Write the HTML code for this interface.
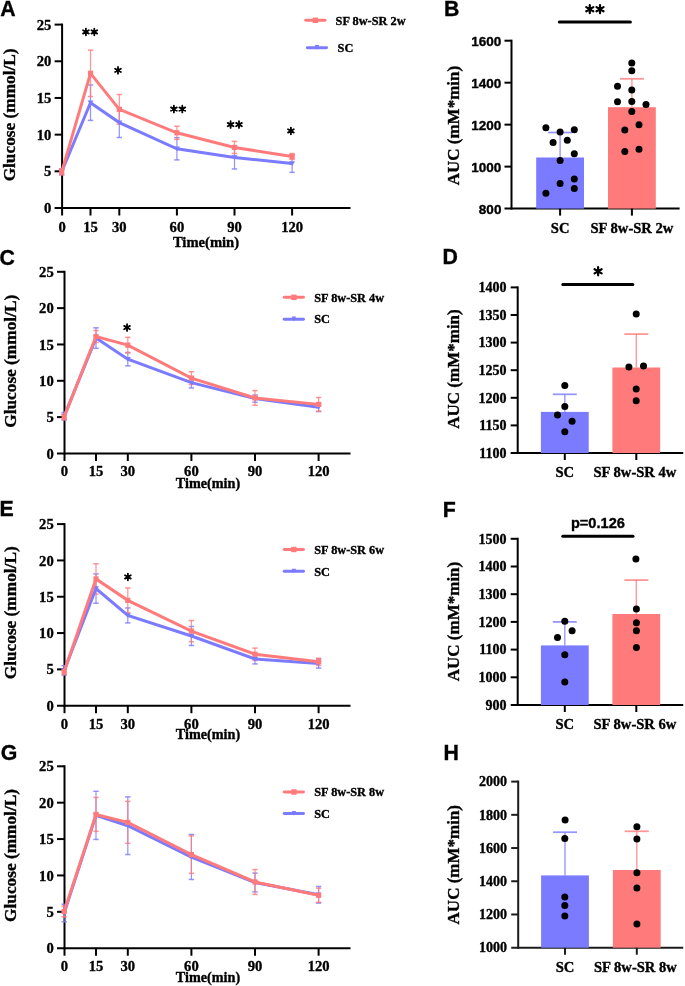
<!DOCTYPE html>
<html><head><meta charset="utf-8"><style>
html,body{margin:0;padding:0;background:#fff;width:685px;height:986px;overflow:hidden}
svg{display:block;filter:blur(0.45px)}
</style></head><body>
<svg width="685" height="986" viewBox="0 0 685 986">
<rect width="685" height="986" fill="#fff"/>
<line x1="62.10" y1="23.60" x2="62.10" y2="209.00" stroke="#000" stroke-width="2" stroke-linecap="butt" />
<line x1="54.60" y1="208.00" x2="350.50" y2="208.00" stroke="#000" stroke-width="2" stroke-linecap="butt" />
<text x="51.30" y="213.10" font-family='"Liberation Serif", serif' font-size="14.6" font-weight="bold" text-anchor="end" stroke="#000" stroke-width="0.35" >0</text>
<line x1="54.60" y1="171.32" x2="62.10" y2="171.32" stroke="#000" stroke-width="2" stroke-linecap="butt" />
<text x="51.30" y="176.42" font-family='"Liberation Serif", serif' font-size="14.6" font-weight="bold" text-anchor="end" stroke="#000" stroke-width="0.35" >5</text>
<line x1="54.60" y1="134.64" x2="62.10" y2="134.64" stroke="#000" stroke-width="2" stroke-linecap="butt" />
<text x="51.30" y="139.74" font-family='"Liberation Serif", serif' font-size="14.6" font-weight="bold" text-anchor="end" stroke="#000" stroke-width="0.35" >10</text>
<line x1="54.60" y1="97.96" x2="62.10" y2="97.96" stroke="#000" stroke-width="2" stroke-linecap="butt" />
<text x="51.30" y="103.06" font-family='"Liberation Serif", serif' font-size="14.6" font-weight="bold" text-anchor="end" stroke="#000" stroke-width="0.35" >15</text>
<line x1="54.60" y1="61.28" x2="62.10" y2="61.28" stroke="#000" stroke-width="2" stroke-linecap="butt" />
<text x="51.30" y="66.38" font-family='"Liberation Serif", serif' font-size="14.6" font-weight="bold" text-anchor="end" stroke="#000" stroke-width="0.35" >20</text>
<line x1="54.60" y1="24.60" x2="62.10" y2="24.60" stroke="#000" stroke-width="2" stroke-linecap="butt" />
<text x="51.30" y="29.70" font-family='"Liberation Serif", serif' font-size="14.6" font-weight="bold" text-anchor="end" stroke="#000" stroke-width="0.35" >25</text>
<line x1="62.10" y1="208.00" x2="62.10" y2="215.50" stroke="#000" stroke-width="2" stroke-linecap="butt" />
<text x="62.10" y="232.20" font-family='"Liberation Serif", serif' font-size="14.6" font-weight="bold" text-anchor="middle" stroke="#000" stroke-width="0.35" >0</text>
<line x1="90.50" y1="208.00" x2="90.50" y2="215.50" stroke="#000" stroke-width="2" stroke-linecap="butt" />
<text x="90.50" y="232.20" font-family='"Liberation Serif", serif' font-size="14.6" font-weight="bold" text-anchor="middle" stroke="#000" stroke-width="0.35" >15</text>
<line x1="119.30" y1="208.00" x2="119.30" y2="215.50" stroke="#000" stroke-width="2" stroke-linecap="butt" />
<text x="119.30" y="232.20" font-family='"Liberation Serif", serif' font-size="14.6" font-weight="bold" text-anchor="middle" stroke="#000" stroke-width="0.35" >30</text>
<line x1="176.90" y1="208.00" x2="176.90" y2="215.50" stroke="#000" stroke-width="2" stroke-linecap="butt" />
<text x="176.90" y="232.20" font-family='"Liberation Serif", serif' font-size="14.6" font-weight="bold" text-anchor="middle" stroke="#000" stroke-width="0.35" >60</text>
<line x1="234.50" y1="208.00" x2="234.50" y2="215.50" stroke="#000" stroke-width="2" stroke-linecap="butt" />
<text x="234.50" y="232.20" font-family='"Liberation Serif", serif' font-size="14.6" font-weight="bold" text-anchor="middle" stroke="#000" stroke-width="0.35" >90</text>
<line x1="292.10" y1="208.00" x2="292.10" y2="215.50" stroke="#000" stroke-width="2" stroke-linecap="butt" />
<text x="292.10" y="232.20" font-family='"Liberation Serif", serif' font-size="14.6" font-weight="bold" text-anchor="middle" stroke="#000" stroke-width="0.35" >120</text>
<text x="206.00" y="247.30" font-family='"Liberation Serif", serif' font-size="14.6" font-weight="bold" text-anchor="middle" stroke="#000" stroke-width="0.35" >Time(min)</text>
<text transform="translate(15.30,114.90) rotate(-90)" x="0" y="0" font-family='"Liberation Serif", serif' font-size="17.3" font-weight="bold" text-anchor="middle" stroke="#000" stroke-width="0.35">Glucose (mmol/L)</text>
<text x="0.20" y="15.50" font-family='"Liberation Sans", sans-serif' font-size="21.3" font-weight="bold" text-anchor="start" stroke="#000" stroke-width="0.35" >A</text>
<line x1="61.70" y1="168.81" x2="61.70" y2="174.65" stroke="#7B7BFF" stroke-width="1.25" stroke-linecap="butt" stroke-opacity="0.8"/>
<line x1="59.00" y1="168.81" x2="64.40" y2="168.81" stroke="#7B7BFF" stroke-width="1.5" stroke-linecap="butt" stroke-opacity="0.8"/>
<line x1="59.00" y1="174.65" x2="64.40" y2="174.65" stroke="#7B7BFF" stroke-width="1.5" stroke-linecap="butt" stroke-opacity="0.8"/>
<line x1="90.50" y1="84.93" x2="90.50" y2="120.41" stroke="#7B7BFF" stroke-width="1.25" stroke-linecap="butt" stroke-opacity="0.8"/>
<line x1="87.80" y1="84.93" x2="93.20" y2="84.93" stroke="#7B7BFF" stroke-width="1.5" stroke-linecap="butt" stroke-opacity="0.8"/>
<line x1="87.80" y1="120.41" x2="93.20" y2="120.41" stroke="#7B7BFF" stroke-width="1.5" stroke-linecap="butt" stroke-opacity="0.8"/>
<line x1="119.30" y1="107.71" x2="119.30" y2="137.49" stroke="#7B7BFF" stroke-width="1.25" stroke-linecap="butt" stroke-opacity="0.8"/>
<line x1="116.60" y1="107.71" x2="122.00" y2="107.71" stroke="#7B7BFF" stroke-width="1.5" stroke-linecap="butt" stroke-opacity="0.8"/>
<line x1="116.60" y1="137.49" x2="122.00" y2="137.49" stroke="#7B7BFF" stroke-width="1.5" stroke-linecap="butt" stroke-opacity="0.8"/>
<line x1="176.90" y1="137.71" x2="176.90" y2="159.90" stroke="#7B7BFF" stroke-width="1.25" stroke-linecap="butt" stroke-opacity="0.8"/>
<line x1="174.20" y1="137.71" x2="179.60" y2="137.71" stroke="#7B7BFF" stroke-width="1.5" stroke-linecap="butt" stroke-opacity="0.8"/>
<line x1="174.20" y1="159.90" x2="179.60" y2="159.90" stroke="#7B7BFF" stroke-width="1.5" stroke-linecap="butt" stroke-opacity="0.8"/>
<line x1="234.50" y1="146.18" x2="234.50" y2="168.96" stroke="#7B7BFF" stroke-width="1.25" stroke-linecap="butt" stroke-opacity="0.8"/>
<line x1="231.80" y1="146.18" x2="237.20" y2="146.18" stroke="#7B7BFF" stroke-width="1.5" stroke-linecap="butt" stroke-opacity="0.8"/>
<line x1="231.80" y1="168.96" x2="237.20" y2="168.96" stroke="#7B7BFF" stroke-width="1.5" stroke-linecap="butt" stroke-opacity="0.8"/>
<line x1="292.10" y1="154.57" x2="292.10" y2="172.39" stroke="#7B7BFF" stroke-width="1.25" stroke-linecap="butt" stroke-opacity="0.8"/>
<line x1="289.40" y1="154.57" x2="294.80" y2="154.57" stroke="#7B7BFF" stroke-width="1.5" stroke-linecap="butt" stroke-opacity="0.8"/>
<line x1="289.40" y1="172.39" x2="294.80" y2="172.39" stroke="#7B7BFF" stroke-width="1.5" stroke-linecap="butt" stroke-opacity="0.8"/>
<line x1="61.70" y1="169.03" x2="61.70" y2="174.87" stroke="#FF7B7B" stroke-width="1.25" stroke-linecap="butt" stroke-opacity="0.8"/>
<line x1="59.00" y1="169.03" x2="64.40" y2="169.03" stroke="#FF7B7B" stroke-width="1.5" stroke-linecap="butt" stroke-opacity="0.8"/>
<line x1="59.00" y1="174.87" x2="64.40" y2="174.87" stroke="#FF7B7B" stroke-width="1.5" stroke-linecap="butt" stroke-opacity="0.8"/>
<line x1="90.50" y1="50.11" x2="90.50" y2="96.54" stroke="#FF7B7B" stroke-width="1.25" stroke-linecap="butt" stroke-opacity="0.8"/>
<line x1="87.80" y1="50.11" x2="93.20" y2="50.11" stroke="#FF7B7B" stroke-width="1.5" stroke-linecap="butt" stroke-opacity="0.8"/>
<line x1="87.80" y1="96.54" x2="93.20" y2="96.54" stroke="#FF7B7B" stroke-width="1.5" stroke-linecap="butt" stroke-opacity="0.8"/>
<line x1="119.30" y1="94.50" x2="119.30" y2="124.13" stroke="#FF7B7B" stroke-width="1.25" stroke-linecap="butt" stroke-opacity="0.8"/>
<line x1="116.60" y1="94.50" x2="122.00" y2="94.50" stroke="#FF7B7B" stroke-width="1.5" stroke-linecap="butt" stroke-opacity="0.8"/>
<line x1="116.60" y1="124.13" x2="122.00" y2="124.13" stroke="#FF7B7B" stroke-width="1.5" stroke-linecap="butt" stroke-opacity="0.8"/>
<line x1="176.90" y1="126.25" x2="176.90" y2="139.39" stroke="#FF7B7B" stroke-width="1.25" stroke-linecap="butt" stroke-opacity="0.8"/>
<line x1="174.20" y1="126.25" x2="179.60" y2="126.25" stroke="#FF7B7B" stroke-width="1.5" stroke-linecap="butt" stroke-opacity="0.8"/>
<line x1="174.20" y1="139.39" x2="179.60" y2="139.39" stroke="#FF7B7B" stroke-width="1.5" stroke-linecap="butt" stroke-opacity="0.8"/>
<line x1="234.50" y1="141.36" x2="234.50" y2="153.48" stroke="#FF7B7B" stroke-width="1.25" stroke-linecap="butt" stroke-opacity="0.8"/>
<line x1="231.80" y1="141.36" x2="237.20" y2="141.36" stroke="#FF7B7B" stroke-width="1.5" stroke-linecap="butt" stroke-opacity="0.8"/>
<line x1="231.80" y1="153.48" x2="237.20" y2="153.48" stroke="#FF7B7B" stroke-width="1.5" stroke-linecap="butt" stroke-opacity="0.8"/>
<line x1="292.10" y1="153.55" x2="292.10" y2="159.39" stroke="#FF7B7B" stroke-width="1.25" stroke-linecap="butt" stroke-opacity="0.8"/>
<line x1="289.40" y1="153.55" x2="294.80" y2="153.55" stroke="#FF7B7B" stroke-width="1.5" stroke-linecap="butt" stroke-opacity="0.8"/>
<line x1="289.40" y1="159.39" x2="294.80" y2="159.39" stroke="#FF7B7B" stroke-width="1.5" stroke-linecap="butt" stroke-opacity="0.8"/>
<polyline points="61.70,171.73 90.50,102.67 119.30,122.60 176.90,148.81 234.50,157.57 292.10,163.48" fill="none" stroke="#7B7BFF" stroke-width="3.0" stroke-linejoin="miter"/>
<polygon points="58.70,169.53 64.70,169.53 61.70,174.13" fill="#7B7BFF"/>
<polygon points="87.50,100.47 93.50,100.47 90.50,105.07" fill="#7B7BFF"/>
<polygon points="116.30,120.40 122.30,120.40 119.30,125.00" fill="#7B7BFF"/>
<polygon points="173.90,146.61 179.90,146.61 176.90,151.21" fill="#7B7BFF"/>
<polygon points="231.50,155.37 237.50,155.37 234.50,159.97" fill="#7B7BFF"/>
<polygon points="289.10,161.28 295.10,161.28 292.10,165.88" fill="#7B7BFF"/>
<polyline points="61.70,171.95 90.50,73.33 119.30,109.32 176.90,132.82 234.50,147.42 292.10,156.47" fill="none" stroke="#FF7B7B" stroke-width="3.0" stroke-linejoin="miter"/>
<rect x="59.10" y="169.35" width="5.2" height="5.2" fill="#FF7B7B"/>
<rect x="87.90" y="70.73" width="5.2" height="5.2" fill="#FF7B7B"/>
<rect x="116.70" y="106.72" width="5.2" height="5.2" fill="#FF7B7B"/>
<rect x="174.30" y="130.22" width="5.2" height="5.2" fill="#FF7B7B"/>
<rect x="231.90" y="144.82" width="5.2" height="5.2" fill="#FF7B7B"/>
<rect x="289.50" y="153.87" width="5.2" height="5.2" fill="#FF7B7B"/>
<line x1="305.70" y1="20.30" x2="325.00" y2="20.30" stroke="#FF7B7B" stroke-width="2.9" stroke-linecap="round" />
<rect x="312.70" y="17.60" width="5.4" height="5.4" fill="#FF7B7B"/>
<text x="335.60" y="24.90" font-family='"Liberation Serif", serif' font-size="12.3" font-weight="bold" text-anchor="start" stroke="#000" stroke-width="0.35" >SF 8w-SR 2w</text>
<line x1="307.30" y1="47.70" x2="326.60" y2="47.70" stroke="#7B7BFF" stroke-width="2.9" stroke-linecap="round" />
<polygon points="314.80,45.10 319.20,45.10 317.00,49.90" fill="#7B7BFF"/>
<text x="337.60" y="51.70" font-family='"Liberation Serif", serif' font-size="12.3" font-weight="bold" text-anchor="start" stroke="#000" stroke-width="0.35" >SC</text>
<path d="M85.90,28.60L85.90,35.30M83.00,30.27L88.80,33.62M88.80,30.27L83.00,33.62" stroke="#000" stroke-width="1.8" stroke-linecap="round" fill="none"/>
<circle cx="85.90" cy="31.95" r="1.90" fill="#000"/>
<path d="M94.30,28.60L94.30,35.30M91.40,30.27L97.20,33.62M97.20,30.27L91.40,33.62" stroke="#000" stroke-width="1.8" stroke-linecap="round" fill="none"/>
<circle cx="94.30" cy="31.95" r="1.90" fill="#000"/>
<path d="M118.00,67.00L118.00,73.70M115.10,68.67L120.90,72.02M120.90,68.67L115.10,72.02" stroke="#000" stroke-width="1.8" stroke-linecap="round" fill="none"/>
<circle cx="118.00" cy="70.35" r="1.90" fill="#000"/>
<path d="M173.90,105.70L173.90,112.40M171.00,107.38L176.80,110.72M176.80,107.38L171.00,110.72" stroke="#000" stroke-width="1.8" stroke-linecap="round" fill="none"/>
<circle cx="173.90" cy="109.05" r="1.90" fill="#000"/>
<path d="M182.30,105.70L182.30,112.40M179.40,107.38L185.20,110.72M185.20,107.38L179.40,110.72" stroke="#000" stroke-width="1.8" stroke-linecap="round" fill="none"/>
<circle cx="182.30" cy="109.05" r="1.90" fill="#000"/>
<path d="M230.60,121.20L230.60,127.90M227.70,122.88L233.50,126.22M233.50,122.88L227.70,126.22" stroke="#000" stroke-width="1.8" stroke-linecap="round" fill="none"/>
<circle cx="230.60" cy="124.55" r="1.90" fill="#000"/>
<path d="M239.00,121.20L239.00,127.90M236.10,122.88L241.90,126.22M241.90,122.88L236.10,126.22" stroke="#000" stroke-width="1.8" stroke-linecap="round" fill="none"/>
<circle cx="239.00" cy="124.55" r="1.90" fill="#000"/>
<path d="M290.90,127.60L290.90,134.30M288.00,129.27L293.80,132.62M293.80,129.27L288.00,132.62" stroke="#000" stroke-width="1.8" stroke-linecap="round" fill="none"/>
<circle cx="290.90" cy="130.95" r="1.90" fill="#000"/>
<line x1="64.50" y1="270.80" x2="64.50" y2="454.45" stroke="#000" stroke-width="2" stroke-linecap="butt" />
<line x1="57.00" y1="453.45" x2="350.50" y2="453.45" stroke="#000" stroke-width="2" stroke-linecap="butt" />
<text x="53.70" y="458.55" font-family='"Liberation Serif", serif' font-size="14.6" font-weight="bold" text-anchor="end" stroke="#000" stroke-width="0.35" >0</text>
<line x1="57.00" y1="417.12" x2="64.50" y2="417.12" stroke="#000" stroke-width="2" stroke-linecap="butt" />
<text x="53.70" y="422.22" font-family='"Liberation Serif", serif' font-size="14.6" font-weight="bold" text-anchor="end" stroke="#000" stroke-width="0.35" >5</text>
<line x1="57.00" y1="380.79" x2="64.50" y2="380.79" stroke="#000" stroke-width="2" stroke-linecap="butt" />
<text x="53.70" y="385.89" font-family='"Liberation Serif", serif' font-size="14.6" font-weight="bold" text-anchor="end" stroke="#000" stroke-width="0.35" >10</text>
<line x1="57.00" y1="344.46" x2="64.50" y2="344.46" stroke="#000" stroke-width="2" stroke-linecap="butt" />
<text x="53.70" y="349.56" font-family='"Liberation Serif", serif' font-size="14.6" font-weight="bold" text-anchor="end" stroke="#000" stroke-width="0.35" >15</text>
<line x1="57.00" y1="308.13" x2="64.50" y2="308.13" stroke="#000" stroke-width="2" stroke-linecap="butt" />
<text x="53.70" y="313.23" font-family='"Liberation Serif", serif' font-size="14.6" font-weight="bold" text-anchor="end" stroke="#000" stroke-width="0.35" >20</text>
<line x1="57.00" y1="271.80" x2="64.50" y2="271.80" stroke="#000" stroke-width="2" stroke-linecap="butt" />
<text x="53.70" y="276.90" font-family='"Liberation Serif", serif' font-size="14.6" font-weight="bold" text-anchor="end" stroke="#000" stroke-width="0.35" >25</text>
<line x1="64.50" y1="453.45" x2="64.50" y2="460.95" stroke="#000" stroke-width="2" stroke-linecap="butt" />
<text x="64.50" y="476.45" font-family='"Liberation Serif", serif' font-size="14.6" font-weight="bold" text-anchor="middle" stroke="#000" stroke-width="0.35" >0</text>
<line x1="96.00" y1="453.45" x2="96.00" y2="460.95" stroke="#000" stroke-width="2" stroke-linecap="butt" />
<text x="96.00" y="476.45" font-family='"Liberation Serif", serif' font-size="14.6" font-weight="bold" text-anchor="middle" stroke="#000" stroke-width="0.35" >15</text>
<line x1="127.80" y1="453.45" x2="127.80" y2="460.95" stroke="#000" stroke-width="2" stroke-linecap="butt" />
<text x="127.80" y="476.45" font-family='"Liberation Serif", serif' font-size="14.6" font-weight="bold" text-anchor="middle" stroke="#000" stroke-width="0.35" >30</text>
<line x1="191.40" y1="453.45" x2="191.40" y2="460.95" stroke="#000" stroke-width="2" stroke-linecap="butt" />
<text x="191.40" y="476.45" font-family='"Liberation Serif", serif' font-size="14.6" font-weight="bold" text-anchor="middle" stroke="#000" stroke-width="0.35" >60</text>
<line x1="255.00" y1="453.45" x2="255.00" y2="460.95" stroke="#000" stroke-width="2" stroke-linecap="butt" />
<text x="255.00" y="476.45" font-family='"Liberation Serif", serif' font-size="14.6" font-weight="bold" text-anchor="middle" stroke="#000" stroke-width="0.35" >90</text>
<line x1="318.60" y1="453.45" x2="318.60" y2="460.95" stroke="#000" stroke-width="2" stroke-linecap="butt" />
<text x="318.60" y="476.45" font-family='"Liberation Serif", serif' font-size="14.6" font-weight="bold" text-anchor="middle" stroke="#000" stroke-width="0.35" >120</text>
<text x="208.00" y="487.50" font-family='"Liberation Serif", serif' font-size="14.2" font-weight="bold" text-anchor="middle" stroke="#000" stroke-width="0.35" >Time(min)</text>
<text transform="translate(16.30,361.30) rotate(-90)" x="0" y="0" font-family='"Liberation Serif", serif' font-size="17.3" font-weight="bold" text-anchor="middle" stroke="#000" stroke-width="0.35">Glucose (mmol/L)</text>
<text x="-0.60" y="265.20" font-family='"Liberation Sans", sans-serif' font-size="21.3" font-weight="bold" text-anchor="start" stroke="#000" stroke-width="0.35" >C</text>
<line x1="64.20" y1="412.53" x2="64.20" y2="419.81" stroke="#7B7BFF" stroke-width="1.25" stroke-linecap="butt" stroke-opacity="0.8"/>
<line x1="61.50" y1="412.53" x2="66.90" y2="412.53" stroke="#7B7BFF" stroke-width="1.5" stroke-linecap="butt" stroke-opacity="0.8"/>
<line x1="61.50" y1="419.81" x2="66.90" y2="419.81" stroke="#7B7BFF" stroke-width="1.5" stroke-linecap="butt" stroke-opacity="0.8"/>
<line x1="96.00" y1="327.79" x2="96.00" y2="348.32" stroke="#7B7BFF" stroke-width="1.25" stroke-linecap="butt" stroke-opacity="0.8"/>
<line x1="93.30" y1="327.79" x2="98.70" y2="327.79" stroke="#7B7BFF" stroke-width="1.5" stroke-linecap="butt" stroke-opacity="0.8"/>
<line x1="93.30" y1="348.32" x2="98.70" y2="348.32" stroke="#7B7BFF" stroke-width="1.5" stroke-linecap="butt" stroke-opacity="0.8"/>
<line x1="127.80" y1="352.47" x2="127.80" y2="365.87" stroke="#7B7BFF" stroke-width="1.25" stroke-linecap="butt" stroke-opacity="0.8"/>
<line x1="125.10" y1="352.47" x2="130.50" y2="352.47" stroke="#7B7BFF" stroke-width="1.5" stroke-linecap="butt" stroke-opacity="0.8"/>
<line x1="125.10" y1="365.87" x2="130.50" y2="365.87" stroke="#7B7BFF" stroke-width="1.5" stroke-linecap="butt" stroke-opacity="0.8"/>
<line x1="191.40" y1="377.30" x2="191.40" y2="387.93" stroke="#7B7BFF" stroke-width="1.25" stroke-linecap="butt" stroke-opacity="0.8"/>
<line x1="188.70" y1="377.30" x2="194.10" y2="377.30" stroke="#7B7BFF" stroke-width="1.5" stroke-linecap="butt" stroke-opacity="0.8"/>
<line x1="188.70" y1="387.93" x2="194.10" y2="387.93" stroke="#7B7BFF" stroke-width="1.5" stroke-linecap="butt" stroke-opacity="0.8"/>
<line x1="255.00" y1="394.99" x2="255.00" y2="402.27" stroke="#7B7BFF" stroke-width="1.25" stroke-linecap="butt" stroke-opacity="0.8"/>
<line x1="252.30" y1="394.99" x2="257.70" y2="394.99" stroke="#7B7BFF" stroke-width="1.5" stroke-linecap="butt" stroke-opacity="0.8"/>
<line x1="252.30" y1="402.27" x2="257.70" y2="402.27" stroke="#7B7BFF" stroke-width="1.5" stroke-linecap="butt" stroke-opacity="0.8"/>
<line x1="318.60" y1="403.07" x2="318.60" y2="411.51" stroke="#7B7BFF" stroke-width="1.25" stroke-linecap="butt" stroke-opacity="0.8"/>
<line x1="315.90" y1="403.07" x2="321.30" y2="403.07" stroke="#7B7BFF" stroke-width="1.5" stroke-linecap="butt" stroke-opacity="0.8"/>
<line x1="315.90" y1="411.51" x2="321.30" y2="411.51" stroke="#7B7BFF" stroke-width="1.5" stroke-linecap="butt" stroke-opacity="0.8"/>
<line x1="64.20" y1="413.99" x2="64.20" y2="419.81" stroke="#FF7B7B" stroke-width="1.25" stroke-linecap="butt" stroke-opacity="0.8"/>
<line x1="61.50" y1="413.99" x2="66.90" y2="413.99" stroke="#FF7B7B" stroke-width="1.5" stroke-linecap="butt" stroke-opacity="0.8"/>
<line x1="61.50" y1="419.81" x2="66.90" y2="419.81" stroke="#FF7B7B" stroke-width="1.5" stroke-linecap="butt" stroke-opacity="0.8"/>
<line x1="96.00" y1="330.41" x2="96.00" y2="342.50" stroke="#FF7B7B" stroke-width="1.25" stroke-linecap="butt" stroke-opacity="0.8"/>
<line x1="93.30" y1="330.41" x2="98.70" y2="330.41" stroke="#FF7B7B" stroke-width="1.5" stroke-linecap="butt" stroke-opacity="0.8"/>
<line x1="93.30" y1="342.50" x2="98.70" y2="342.50" stroke="#FF7B7B" stroke-width="1.5" stroke-linecap="butt" stroke-opacity="0.8"/>
<line x1="127.80" y1="337.33" x2="127.80" y2="352.91" stroke="#FF7B7B" stroke-width="1.25" stroke-linecap="butt" stroke-opacity="0.8"/>
<line x1="125.10" y1="337.33" x2="130.50" y2="337.33" stroke="#FF7B7B" stroke-width="1.5" stroke-linecap="butt" stroke-opacity="0.8"/>
<line x1="125.10" y1="352.91" x2="130.50" y2="352.91" stroke="#FF7B7B" stroke-width="1.5" stroke-linecap="butt" stroke-opacity="0.8"/>
<line x1="191.40" y1="371.69" x2="191.40" y2="384.50" stroke="#FF7B7B" stroke-width="1.25" stroke-linecap="butt" stroke-opacity="0.8"/>
<line x1="188.70" y1="371.69" x2="194.10" y2="371.69" stroke="#FF7B7B" stroke-width="1.5" stroke-linecap="butt" stroke-opacity="0.8"/>
<line x1="188.70" y1="384.50" x2="194.10" y2="384.50" stroke="#FF7B7B" stroke-width="1.5" stroke-linecap="butt" stroke-opacity="0.8"/>
<line x1="255.00" y1="390.62" x2="255.00" y2="405.18" stroke="#FF7B7B" stroke-width="1.25" stroke-linecap="butt" stroke-opacity="0.8"/>
<line x1="252.30" y1="390.62" x2="257.70" y2="390.62" stroke="#FF7B7B" stroke-width="1.5" stroke-linecap="butt" stroke-opacity="0.8"/>
<line x1="252.30" y1="405.18" x2="257.70" y2="405.18" stroke="#FF7B7B" stroke-width="1.5" stroke-linecap="butt" stroke-opacity="0.8"/>
<line x1="318.60" y1="397.46" x2="318.60" y2="411.29" stroke="#FF7B7B" stroke-width="1.25" stroke-linecap="butt" stroke-opacity="0.8"/>
<line x1="315.90" y1="397.46" x2="321.30" y2="397.46" stroke="#FF7B7B" stroke-width="1.5" stroke-linecap="butt" stroke-opacity="0.8"/>
<line x1="315.90" y1="411.29" x2="321.30" y2="411.29" stroke="#FF7B7B" stroke-width="1.5" stroke-linecap="butt" stroke-opacity="0.8"/>
<polyline points="64.20,416.17 96.00,338.06 127.80,359.17 191.40,382.61 255.00,398.63 318.60,407.29" fill="none" stroke="#7B7BFF" stroke-width="3.0" stroke-linejoin="miter"/>
<polygon points="61.20,413.97 67.20,413.97 64.20,418.57" fill="#7B7BFF"/>
<polygon points="93.00,335.86 99.00,335.86 96.00,340.46" fill="#7B7BFF"/>
<polygon points="124.80,356.97 130.80,356.97 127.80,361.57" fill="#7B7BFF"/>
<polygon points="188.40,380.41 194.40,380.41 191.40,385.01" fill="#7B7BFF"/>
<polygon points="252.00,396.43 258.00,396.43 255.00,401.03" fill="#7B7BFF"/>
<polygon points="315.60,405.09 321.60,405.09 318.60,409.69" fill="#7B7BFF"/>
<polyline points="64.20,416.90 96.00,336.46 127.80,345.12 191.40,378.10 255.00,397.90 318.60,404.38" fill="none" stroke="#FF7B7B" stroke-width="3.0" stroke-linejoin="miter"/>
<rect x="61.60" y="414.30" width="5.2" height="5.2" fill="#FF7B7B"/>
<rect x="93.40" y="333.86" width="5.2" height="5.2" fill="#FF7B7B"/>
<rect x="125.20" y="342.52" width="5.2" height="5.2" fill="#FF7B7B"/>
<rect x="188.80" y="375.50" width="5.2" height="5.2" fill="#FF7B7B"/>
<rect x="252.40" y="395.30" width="5.2" height="5.2" fill="#FF7B7B"/>
<rect x="316.00" y="401.78" width="5.2" height="5.2" fill="#FF7B7B"/>
<line x1="284.20" y1="297.30" x2="303.50" y2="297.30" stroke="#FF7B7B" stroke-width="2.9" stroke-linecap="round" />
<rect x="291.20" y="294.60" width="5.4" height="5.4" fill="#FF7B7B"/>
<text x="314.20" y="301.80" font-family='"Liberation Serif", serif' font-size="12.3" font-weight="bold" text-anchor="start" stroke="#000" stroke-width="0.35" >SF 8w-SR 4w</text>
<line x1="284.20" y1="319.20" x2="303.50" y2="319.20" stroke="#7B7BFF" stroke-width="2.9" stroke-linecap="round" />
<polygon points="291.70,316.60 296.10,316.60 293.90,321.40" fill="#7B7BFF"/>
<text x="314.20" y="323.30" font-family='"Liberation Serif", serif' font-size="12.3" font-weight="bold" text-anchor="start" stroke="#000" stroke-width="0.35" >SC</text>
<path d="M127.05,324.20L127.05,330.90M124.15,325.88L129.95,329.23M129.95,325.88L124.15,329.23" stroke="#000" stroke-width="1.8" stroke-linecap="round" fill="none"/>
<circle cx="127.05" cy="327.55" r="1.90" fill="#000"/>
<line x1="64.50" y1="523.10" x2="64.50" y2="706.70" stroke="#000" stroke-width="2" stroke-linecap="butt" />
<line x1="57.00" y1="705.70" x2="350.50" y2="705.70" stroke="#000" stroke-width="2" stroke-linecap="butt" />
<text x="53.70" y="710.80" font-family='"Liberation Serif", serif' font-size="14.6" font-weight="bold" text-anchor="end" stroke="#000" stroke-width="0.35" >0</text>
<line x1="57.00" y1="669.38" x2="64.50" y2="669.38" stroke="#000" stroke-width="2" stroke-linecap="butt" />
<text x="53.70" y="674.48" font-family='"Liberation Serif", serif' font-size="14.6" font-weight="bold" text-anchor="end" stroke="#000" stroke-width="0.35" >5</text>
<line x1="57.00" y1="633.06" x2="64.50" y2="633.06" stroke="#000" stroke-width="2" stroke-linecap="butt" />
<text x="53.70" y="638.16" font-family='"Liberation Serif", serif' font-size="14.6" font-weight="bold" text-anchor="end" stroke="#000" stroke-width="0.35" >10</text>
<line x1="57.00" y1="596.74" x2="64.50" y2="596.74" stroke="#000" stroke-width="2" stroke-linecap="butt" />
<text x="53.70" y="601.84" font-family='"Liberation Serif", serif' font-size="14.6" font-weight="bold" text-anchor="end" stroke="#000" stroke-width="0.35" >15</text>
<line x1="57.00" y1="560.42" x2="64.50" y2="560.42" stroke="#000" stroke-width="2" stroke-linecap="butt" />
<text x="53.70" y="565.52" font-family='"Liberation Serif", serif' font-size="14.6" font-weight="bold" text-anchor="end" stroke="#000" stroke-width="0.35" >20</text>
<line x1="57.00" y1="524.10" x2="64.50" y2="524.10" stroke="#000" stroke-width="2" stroke-linecap="butt" />
<text x="53.70" y="529.20" font-family='"Liberation Serif", serif' font-size="14.6" font-weight="bold" text-anchor="end" stroke="#000" stroke-width="0.35" >25</text>
<line x1="64.50" y1="705.70" x2="64.50" y2="713.20" stroke="#000" stroke-width="2" stroke-linecap="butt" />
<text x="64.50" y="728.70" font-family='"Liberation Serif", serif' font-size="14.6" font-weight="bold" text-anchor="middle" stroke="#000" stroke-width="0.35" >0</text>
<line x1="96.00" y1="705.70" x2="96.00" y2="713.20" stroke="#000" stroke-width="2" stroke-linecap="butt" />
<text x="96.00" y="728.70" font-family='"Liberation Serif", serif' font-size="14.6" font-weight="bold" text-anchor="middle" stroke="#000" stroke-width="0.35" >15</text>
<line x1="127.80" y1="705.70" x2="127.80" y2="713.20" stroke="#000" stroke-width="2" stroke-linecap="butt" />
<text x="127.80" y="728.70" font-family='"Liberation Serif", serif' font-size="14.6" font-weight="bold" text-anchor="middle" stroke="#000" stroke-width="0.35" >30</text>
<line x1="191.40" y1="705.70" x2="191.40" y2="713.20" stroke="#000" stroke-width="2" stroke-linecap="butt" />
<text x="191.40" y="728.70" font-family='"Liberation Serif", serif' font-size="14.6" font-weight="bold" text-anchor="middle" stroke="#000" stroke-width="0.35" >60</text>
<line x1="255.00" y1="705.70" x2="255.00" y2="713.20" stroke="#000" stroke-width="2" stroke-linecap="butt" />
<text x="255.00" y="728.70" font-family='"Liberation Serif", serif' font-size="14.6" font-weight="bold" text-anchor="middle" stroke="#000" stroke-width="0.35" >90</text>
<line x1="318.60" y1="705.70" x2="318.60" y2="713.20" stroke="#000" stroke-width="2" stroke-linecap="butt" />
<text x="318.60" y="728.70" font-family='"Liberation Serif", serif' font-size="14.6" font-weight="bold" text-anchor="middle" stroke="#000" stroke-width="0.35" >120</text>
<text x="208.00" y="739.30" font-family='"Liberation Serif", serif' font-size="14.2" font-weight="bold" text-anchor="middle" stroke="#000" stroke-width="0.35" >Time(min)</text>
<text transform="translate(16.30,612.80) rotate(-90)" x="0" y="0" font-family='"Liberation Serif", serif' font-size="17.3" font-weight="bold" text-anchor="middle" stroke="#000" stroke-width="0.35">Glucose (mmol/L)</text>
<text x="-0.40" y="516.40" font-family='"Liberation Sans", sans-serif' font-size="21.3" font-weight="bold" text-anchor="start" stroke="#000" stroke-width="0.35" >E</text>
<line x1="64.20" y1="665.67" x2="64.20" y2="675.11" stroke="#7B7BFF" stroke-width="1.25" stroke-linecap="butt" stroke-opacity="0.8"/>
<line x1="61.50" y1="665.67" x2="66.90" y2="665.67" stroke="#7B7BFF" stroke-width="1.5" stroke-linecap="butt" stroke-opacity="0.8"/>
<line x1="61.50" y1="675.11" x2="66.90" y2="675.11" stroke="#7B7BFF" stroke-width="1.5" stroke-linecap="butt" stroke-opacity="0.8"/>
<line x1="96.00" y1="573.90" x2="96.00" y2="603.23" stroke="#7B7BFF" stroke-width="1.25" stroke-linecap="butt" stroke-opacity="0.8"/>
<line x1="93.30" y1="573.90" x2="98.70" y2="573.90" stroke="#7B7BFF" stroke-width="1.5" stroke-linecap="butt" stroke-opacity="0.8"/>
<line x1="93.30" y1="603.23" x2="98.70" y2="603.23" stroke="#7B7BFF" stroke-width="1.5" stroke-linecap="butt" stroke-opacity="0.8"/>
<line x1="127.80" y1="607.95" x2="127.80" y2="622.91" stroke="#7B7BFF" stroke-width="1.25" stroke-linecap="butt" stroke-opacity="0.8"/>
<line x1="125.10" y1="607.95" x2="130.50" y2="607.95" stroke="#7B7BFF" stroke-width="1.5" stroke-linecap="butt" stroke-opacity="0.8"/>
<line x1="125.10" y1="622.91" x2="130.50" y2="622.91" stroke="#7B7BFF" stroke-width="1.5" stroke-linecap="butt" stroke-opacity="0.8"/>
<line x1="191.40" y1="626.47" x2="191.40" y2="645.49" stroke="#7B7BFF" stroke-width="1.25" stroke-linecap="butt" stroke-opacity="0.8"/>
<line x1="188.70" y1="626.47" x2="194.10" y2="626.47" stroke="#7B7BFF" stroke-width="1.5" stroke-linecap="butt" stroke-opacity="0.8"/>
<line x1="188.70" y1="645.49" x2="194.10" y2="645.49" stroke="#7B7BFF" stroke-width="1.5" stroke-linecap="butt" stroke-opacity="0.8"/>
<line x1="255.00" y1="653.91" x2="255.00" y2="663.93" stroke="#7B7BFF" stroke-width="1.25" stroke-linecap="butt" stroke-opacity="0.8"/>
<line x1="252.30" y1="653.91" x2="257.70" y2="653.91" stroke="#7B7BFF" stroke-width="1.5" stroke-linecap="butt" stroke-opacity="0.8"/>
<line x1="252.30" y1="663.93" x2="257.70" y2="663.93" stroke="#7B7BFF" stroke-width="1.5" stroke-linecap="butt" stroke-opacity="0.8"/>
<line x1="318.60" y1="658.92" x2="318.60" y2="668.07" stroke="#7B7BFF" stroke-width="1.25" stroke-linecap="butt" stroke-opacity="0.8"/>
<line x1="315.90" y1="658.92" x2="321.30" y2="658.92" stroke="#7B7BFF" stroke-width="1.5" stroke-linecap="butt" stroke-opacity="0.8"/>
<line x1="315.90" y1="668.07" x2="321.30" y2="668.07" stroke="#7B7BFF" stroke-width="1.5" stroke-linecap="butt" stroke-opacity="0.8"/>
<line x1="64.20" y1="669.30" x2="64.20" y2="674.38" stroke="#FF7B7B" stroke-width="1.25" stroke-linecap="butt" stroke-opacity="0.8"/>
<line x1="61.50" y1="669.30" x2="66.90" y2="669.30" stroke="#FF7B7B" stroke-width="1.5" stroke-linecap="butt" stroke-opacity="0.8"/>
<line x1="61.50" y1="674.38" x2="66.90" y2="674.38" stroke="#FF7B7B" stroke-width="1.5" stroke-linecap="butt" stroke-opacity="0.8"/>
<line x1="96.00" y1="563.74" x2="96.00" y2="594.09" stroke="#FF7B7B" stroke-width="1.25" stroke-linecap="butt" stroke-opacity="0.8"/>
<line x1="93.30" y1="563.74" x2="98.70" y2="563.74" stroke="#FF7B7B" stroke-width="1.5" stroke-linecap="butt" stroke-opacity="0.8"/>
<line x1="93.30" y1="594.09" x2="98.70" y2="594.09" stroke="#FF7B7B" stroke-width="1.5" stroke-linecap="butt" stroke-opacity="0.8"/>
<line x1="127.80" y1="587.92" x2="127.80" y2="612.74" stroke="#FF7B7B" stroke-width="1.25" stroke-linecap="butt" stroke-opacity="0.8"/>
<line x1="125.10" y1="587.92" x2="130.50" y2="587.92" stroke="#FF7B7B" stroke-width="1.5" stroke-linecap="butt" stroke-opacity="0.8"/>
<line x1="125.10" y1="612.74" x2="130.50" y2="612.74" stroke="#FF7B7B" stroke-width="1.5" stroke-linecap="butt" stroke-opacity="0.8"/>
<line x1="191.40" y1="620.51" x2="191.40" y2="641.71" stroke="#FF7B7B" stroke-width="1.25" stroke-linecap="butt" stroke-opacity="0.8"/>
<line x1="188.70" y1="620.51" x2="194.10" y2="620.51" stroke="#FF7B7B" stroke-width="1.5" stroke-linecap="butt" stroke-opacity="0.8"/>
<line x1="188.70" y1="641.71" x2="194.10" y2="641.71" stroke="#FF7B7B" stroke-width="1.5" stroke-linecap="butt" stroke-opacity="0.8"/>
<line x1="255.00" y1="648.10" x2="255.00" y2="660.44" stroke="#FF7B7B" stroke-width="1.25" stroke-linecap="butt" stroke-opacity="0.8"/>
<line x1="252.30" y1="648.10" x2="257.70" y2="648.10" stroke="#FF7B7B" stroke-width="1.5" stroke-linecap="butt" stroke-opacity="0.8"/>
<line x1="252.30" y1="660.44" x2="257.70" y2="660.44" stroke="#FF7B7B" stroke-width="1.5" stroke-linecap="butt" stroke-opacity="0.8"/>
<line x1="318.60" y1="658.19" x2="318.60" y2="665.45" stroke="#FF7B7B" stroke-width="1.25" stroke-linecap="butt" stroke-opacity="0.8"/>
<line x1="315.90" y1="658.19" x2="321.30" y2="658.19" stroke="#FF7B7B" stroke-width="1.5" stroke-linecap="butt" stroke-opacity="0.8"/>
<line x1="315.90" y1="665.45" x2="321.30" y2="665.45" stroke="#FF7B7B" stroke-width="1.5" stroke-linecap="butt" stroke-opacity="0.8"/>
<polyline points="64.20,670.39 96.00,588.57 127.80,615.43 191.40,635.98 255.00,658.92 318.60,663.49" fill="none" stroke="#7B7BFF" stroke-width="3.0" stroke-linejoin="miter"/>
<polygon points="61.20,668.19 67.20,668.19 64.20,672.79" fill="#7B7BFF"/>
<polygon points="93.00,586.37 99.00,586.37 96.00,590.97" fill="#7B7BFF"/>
<polygon points="124.80,613.23 130.80,613.23 127.80,617.83" fill="#7B7BFF"/>
<polygon points="188.40,633.78 194.40,633.78 191.40,638.38" fill="#7B7BFF"/>
<polygon points="252.00,656.72 258.00,656.72 255.00,661.32" fill="#7B7BFF"/>
<polygon points="315.60,661.29 321.60,661.29 318.60,665.89" fill="#7B7BFF"/>
<polyline points="64.20,671.84 96.00,578.91 127.80,600.33 191.40,631.11 255.00,654.27 318.60,661.82" fill="none" stroke="#FF7B7B" stroke-width="3.0" stroke-linejoin="miter"/>
<rect x="61.60" y="669.24" width="5.2" height="5.2" fill="#FF7B7B"/>
<rect x="93.40" y="576.31" width="5.2" height="5.2" fill="#FF7B7B"/>
<rect x="125.20" y="597.73" width="5.2" height="5.2" fill="#FF7B7B"/>
<rect x="188.80" y="628.51" width="5.2" height="5.2" fill="#FF7B7B"/>
<rect x="252.40" y="651.67" width="5.2" height="5.2" fill="#FF7B7B"/>
<rect x="316.00" y="659.22" width="5.2" height="5.2" fill="#FF7B7B"/>
<line x1="284.20" y1="549.50" x2="303.50" y2="549.50" stroke="#FF7B7B" stroke-width="2.9" stroke-linecap="round" />
<rect x="291.20" y="546.80" width="5.4" height="5.4" fill="#FF7B7B"/>
<text x="314.20" y="553.90" font-family='"Liberation Serif", serif' font-size="12.3" font-weight="bold" text-anchor="start" stroke="#000" stroke-width="0.35" >SF 8w-SR 6w</text>
<line x1="284.20" y1="571.30" x2="303.50" y2="571.30" stroke="#7B7BFF" stroke-width="2.9" stroke-linecap="round" />
<polygon points="291.70,568.70 296.10,568.70 293.90,573.50" fill="#7B7BFF"/>
<text x="314.20" y="575.60" font-family='"Liberation Serif", serif' font-size="12.3" font-weight="bold" text-anchor="start" stroke="#000" stroke-width="0.35" >SC</text>
<path d="M127.90,573.60L127.90,580.30M125.00,575.28L130.80,578.62M130.80,575.28L125.00,578.62" stroke="#000" stroke-width="1.8" stroke-linecap="round" fill="none"/>
<circle cx="127.90" cy="576.95" r="1.90" fill="#000"/>
<line x1="64.50" y1="765.30" x2="64.50" y2="949.20" stroke="#000" stroke-width="2" stroke-linecap="butt" />
<line x1="57.00" y1="948.20" x2="350.50" y2="948.20" stroke="#000" stroke-width="2" stroke-linecap="butt" />
<text x="53.70" y="953.30" font-family='"Liberation Serif", serif' font-size="14.6" font-weight="bold" text-anchor="end" stroke="#000" stroke-width="0.35" >0</text>
<line x1="57.00" y1="911.82" x2="64.50" y2="911.82" stroke="#000" stroke-width="2" stroke-linecap="butt" />
<text x="53.70" y="916.92" font-family='"Liberation Serif", serif' font-size="14.6" font-weight="bold" text-anchor="end" stroke="#000" stroke-width="0.35" >5</text>
<line x1="57.00" y1="875.44" x2="64.50" y2="875.44" stroke="#000" stroke-width="2" stroke-linecap="butt" />
<text x="53.70" y="880.54" font-family='"Liberation Serif", serif' font-size="14.6" font-weight="bold" text-anchor="end" stroke="#000" stroke-width="0.35" >10</text>
<line x1="57.00" y1="839.06" x2="64.50" y2="839.06" stroke="#000" stroke-width="2" stroke-linecap="butt" />
<text x="53.70" y="844.16" font-family='"Liberation Serif", serif' font-size="14.6" font-weight="bold" text-anchor="end" stroke="#000" stroke-width="0.35" >15</text>
<line x1="57.00" y1="802.68" x2="64.50" y2="802.68" stroke="#000" stroke-width="2" stroke-linecap="butt" />
<text x="53.70" y="807.78" font-family='"Liberation Serif", serif' font-size="14.6" font-weight="bold" text-anchor="end" stroke="#000" stroke-width="0.35" >20</text>
<line x1="57.00" y1="766.30" x2="64.50" y2="766.30" stroke="#000" stroke-width="2" stroke-linecap="butt" />
<text x="53.70" y="771.40" font-family='"Liberation Serif", serif' font-size="14.6" font-weight="bold" text-anchor="end" stroke="#000" stroke-width="0.35" >25</text>
<line x1="64.50" y1="948.20" x2="64.50" y2="955.70" stroke="#000" stroke-width="2" stroke-linecap="butt" />
<text x="64.50" y="971.20" font-family='"Liberation Serif", serif' font-size="14.6" font-weight="bold" text-anchor="middle" stroke="#000" stroke-width="0.35" >0</text>
<line x1="96.00" y1="948.20" x2="96.00" y2="955.70" stroke="#000" stroke-width="2" stroke-linecap="butt" />
<text x="96.00" y="971.20" font-family='"Liberation Serif", serif' font-size="14.6" font-weight="bold" text-anchor="middle" stroke="#000" stroke-width="0.35" >15</text>
<line x1="127.80" y1="948.20" x2="127.80" y2="955.70" stroke="#000" stroke-width="2" stroke-linecap="butt" />
<text x="127.80" y="971.20" font-family='"Liberation Serif", serif' font-size="14.6" font-weight="bold" text-anchor="middle" stroke="#000" stroke-width="0.35" >30</text>
<line x1="191.40" y1="948.20" x2="191.40" y2="955.70" stroke="#000" stroke-width="2" stroke-linecap="butt" />
<text x="191.40" y="971.20" font-family='"Liberation Serif", serif' font-size="14.6" font-weight="bold" text-anchor="middle" stroke="#000" stroke-width="0.35" >60</text>
<line x1="255.00" y1="948.20" x2="255.00" y2="955.70" stroke="#000" stroke-width="2" stroke-linecap="butt" />
<text x="255.00" y="971.20" font-family='"Liberation Serif", serif' font-size="14.6" font-weight="bold" text-anchor="middle" stroke="#000" stroke-width="0.35" >90</text>
<line x1="318.60" y1="948.20" x2="318.60" y2="955.70" stroke="#000" stroke-width="2" stroke-linecap="butt" />
<text x="318.60" y="971.20" font-family='"Liberation Serif", serif' font-size="14.6" font-weight="bold" text-anchor="middle" stroke="#000" stroke-width="0.35" >120</text>
<text x="208.00" y="982.00" font-family='"Liberation Serif", serif' font-size="14.2" font-weight="bold" text-anchor="middle" stroke="#000" stroke-width="0.35" >Time(min)</text>
<text transform="translate(16.30,855.50) rotate(-90)" x="0" y="0" font-family='"Liberation Serif", serif' font-size="17.3" font-weight="bold" text-anchor="middle" stroke="#000" stroke-width="0.35">Glucose (mmol/L)</text>
<text x="0.80" y="759.70" font-family='"Liberation Sans", sans-serif' font-size="21.3" font-weight="bold" text-anchor="start" stroke="#000" stroke-width="0.35" >G</text>
<line x1="64.20" y1="904.26" x2="64.20" y2="921.73" stroke="#7B7BFF" stroke-width="1.25" stroke-linecap="butt" stroke-opacity="0.8"/>
<line x1="61.50" y1="904.26" x2="66.90" y2="904.26" stroke="#7B7BFF" stroke-width="1.5" stroke-linecap="butt" stroke-opacity="0.8"/>
<line x1="61.50" y1="921.73" x2="66.90" y2="921.73" stroke="#7B7BFF" stroke-width="1.5" stroke-linecap="butt" stroke-opacity="0.8"/>
<line x1="96.00" y1="791.27" x2="96.00" y2="839.46" stroke="#7B7BFF" stroke-width="1.25" stroke-linecap="butt" stroke-opacity="0.8"/>
<line x1="93.30" y1="791.27" x2="98.70" y2="791.27" stroke="#7B7BFF" stroke-width="1.5" stroke-linecap="butt" stroke-opacity="0.8"/>
<line x1="93.30" y1="839.46" x2="98.70" y2="839.46" stroke="#7B7BFF" stroke-width="1.5" stroke-linecap="butt" stroke-opacity="0.8"/>
<line x1="127.80" y1="796.88" x2="127.80" y2="854.53" stroke="#7B7BFF" stroke-width="1.25" stroke-linecap="butt" stroke-opacity="0.8"/>
<line x1="125.10" y1="796.88" x2="130.50" y2="796.88" stroke="#7B7BFF" stroke-width="1.5" stroke-linecap="butt" stroke-opacity="0.8"/>
<line x1="125.10" y1="854.53" x2="130.50" y2="854.53" stroke="#7B7BFF" stroke-width="1.5" stroke-linecap="butt" stroke-opacity="0.8"/>
<line x1="191.40" y1="834.51" x2="191.40" y2="879.50" stroke="#7B7BFF" stroke-width="1.25" stroke-linecap="butt" stroke-opacity="0.8"/>
<line x1="188.70" y1="834.51" x2="194.10" y2="834.51" stroke="#7B7BFF" stroke-width="1.5" stroke-linecap="butt" stroke-opacity="0.8"/>
<line x1="188.70" y1="879.50" x2="194.10" y2="879.50" stroke="#7B7BFF" stroke-width="1.5" stroke-linecap="butt" stroke-opacity="0.8"/>
<line x1="255.00" y1="873.10" x2="255.00" y2="891.88" stroke="#7B7BFF" stroke-width="1.25" stroke-linecap="butt" stroke-opacity="0.8"/>
<line x1="252.30" y1="873.10" x2="257.70" y2="873.10" stroke="#7B7BFF" stroke-width="1.5" stroke-linecap="butt" stroke-opacity="0.8"/>
<line x1="252.30" y1="891.88" x2="257.70" y2="891.88" stroke="#7B7BFF" stroke-width="1.5" stroke-linecap="butt" stroke-opacity="0.8"/>
<line x1="318.60" y1="886.49" x2="318.60" y2="903.09" stroke="#7B7BFF" stroke-width="1.25" stroke-linecap="butt" stroke-opacity="0.8"/>
<line x1="315.90" y1="886.49" x2="321.30" y2="886.49" stroke="#7B7BFF" stroke-width="1.5" stroke-linecap="butt" stroke-opacity="0.8"/>
<line x1="315.90" y1="903.09" x2="321.30" y2="903.09" stroke="#7B7BFF" stroke-width="1.5" stroke-linecap="butt" stroke-opacity="0.8"/>
<line x1="64.20" y1="906.15" x2="64.20" y2="916.78" stroke="#FF7B7B" stroke-width="1.25" stroke-linecap="butt" stroke-opacity="0.8"/>
<line x1="61.50" y1="906.15" x2="66.90" y2="906.15" stroke="#FF7B7B" stroke-width="1.5" stroke-linecap="butt" stroke-opacity="0.8"/>
<line x1="61.50" y1="916.78" x2="66.90" y2="916.78" stroke="#FF7B7B" stroke-width="1.5" stroke-linecap="butt" stroke-opacity="0.8"/>
<line x1="96.00" y1="797.46" x2="96.00" y2="831.38" stroke="#FF7B7B" stroke-width="1.25" stroke-linecap="butt" stroke-opacity="0.8"/>
<line x1="93.30" y1="797.46" x2="98.70" y2="797.46" stroke="#FF7B7B" stroke-width="1.5" stroke-linecap="butt" stroke-opacity="0.8"/>
<line x1="93.30" y1="831.38" x2="98.70" y2="831.38" stroke="#FF7B7B" stroke-width="1.5" stroke-linecap="butt" stroke-opacity="0.8"/>
<line x1="127.80" y1="801.32" x2="127.80" y2="843.40" stroke="#FF7B7B" stroke-width="1.25" stroke-linecap="butt" stroke-opacity="0.8"/>
<line x1="125.10" y1="801.32" x2="130.50" y2="801.32" stroke="#FF7B7B" stroke-width="1.5" stroke-linecap="butt" stroke-opacity="0.8"/>
<line x1="125.10" y1="843.40" x2="130.50" y2="843.40" stroke="#FF7B7B" stroke-width="1.5" stroke-linecap="butt" stroke-opacity="0.8"/>
<line x1="191.40" y1="835.82" x2="191.40" y2="873.39" stroke="#FF7B7B" stroke-width="1.25" stroke-linecap="butt" stroke-opacity="0.8"/>
<line x1="188.70" y1="835.82" x2="194.10" y2="835.82" stroke="#FF7B7B" stroke-width="1.5" stroke-linecap="butt" stroke-opacity="0.8"/>
<line x1="188.70" y1="873.39" x2="194.10" y2="873.39" stroke="#FF7B7B" stroke-width="1.5" stroke-linecap="butt" stroke-opacity="0.8"/>
<line x1="255.00" y1="869.53" x2="255.00" y2="894.43" stroke="#FF7B7B" stroke-width="1.25" stroke-linecap="butt" stroke-opacity="0.8"/>
<line x1="252.30" y1="869.53" x2="257.70" y2="869.53" stroke="#FF7B7B" stroke-width="1.5" stroke-linecap="butt" stroke-opacity="0.8"/>
<line x1="252.30" y1="894.43" x2="257.70" y2="894.43" stroke="#FF7B7B" stroke-width="1.5" stroke-linecap="butt" stroke-opacity="0.8"/>
<line x1="318.60" y1="888.17" x2="318.60" y2="902.29" stroke="#FF7B7B" stroke-width="1.25" stroke-linecap="butt" stroke-opacity="0.8"/>
<line x1="315.90" y1="888.17" x2="321.30" y2="888.17" stroke="#FF7B7B" stroke-width="1.5" stroke-linecap="butt" stroke-opacity="0.8"/>
<line x1="315.90" y1="902.29" x2="321.30" y2="902.29" stroke="#FF7B7B" stroke-width="1.5" stroke-linecap="butt" stroke-opacity="0.8"/>
<polyline points="64.20,912.99 96.00,815.37 127.80,825.71 191.40,857.01 255.00,882.49 318.60,894.79" fill="none" stroke="#7B7BFF" stroke-width="3.0" stroke-linejoin="miter"/>
<polygon points="61.20,910.79 67.20,910.79 64.20,915.39" fill="#7B7BFF"/>
<polygon points="93.00,813.17 99.00,813.17 96.00,817.77" fill="#7B7BFF"/>
<polygon points="124.80,823.51 130.80,823.51 127.80,828.11" fill="#7B7BFF"/>
<polygon points="188.40,854.81 194.40,854.81 191.40,859.41" fill="#7B7BFF"/>
<polygon points="252.00,880.29 258.00,880.29 255.00,884.89" fill="#7B7BFF"/>
<polygon points="315.60,892.59 321.60,892.59 318.60,897.19" fill="#7B7BFF"/>
<polyline points="64.20,911.46 96.00,814.42 127.80,822.36 191.40,854.61 255.00,881.98 318.60,895.23" fill="none" stroke="#FF7B7B" stroke-width="3.0" stroke-linejoin="miter"/>
<rect x="61.60" y="908.86" width="5.2" height="5.2" fill="#FF7B7B"/>
<rect x="93.40" y="811.82" width="5.2" height="5.2" fill="#FF7B7B"/>
<rect x="125.20" y="819.76" width="5.2" height="5.2" fill="#FF7B7B"/>
<rect x="188.80" y="852.01" width="5.2" height="5.2" fill="#FF7B7B"/>
<rect x="252.40" y="879.38" width="5.2" height="5.2" fill="#FF7B7B"/>
<rect x="316.00" y="892.63" width="5.2" height="5.2" fill="#FF7B7B"/>
<line x1="284.20" y1="792.00" x2="303.50" y2="792.00" stroke="#FF7B7B" stroke-width="2.9" stroke-linecap="round" />
<rect x="291.20" y="789.30" width="5.4" height="5.4" fill="#FF7B7B"/>
<text x="314.20" y="796.20" font-family='"Liberation Serif", serif' font-size="12.3" font-weight="bold" text-anchor="start" stroke="#000" stroke-width="0.35" >SF 8w-SR 8w</text>
<line x1="284.20" y1="813.50" x2="303.50" y2="813.50" stroke="#7B7BFF" stroke-width="2.9" stroke-linecap="round" />
<polygon points="291.70,810.90 296.10,810.90 293.90,815.70" fill="#7B7BFF"/>
<text x="314.20" y="817.80" font-family='"Liberation Serif", serif' font-size="12.3" font-weight="bold" text-anchor="start" stroke="#000" stroke-width="0.35" >SC</text>
<line x1="511.50" y1="39.70" x2="511.50" y2="209.60" stroke="#000" stroke-width="2" stroke-linecap="butt" />
<line x1="504.50" y1="208.60" x2="679.60" y2="208.60" stroke="#000" stroke-width="2" stroke-linecap="butt" />
<text x="501.40" y="213.60" font-family='"Liberation Sans", sans-serif' font-size="13.5" font-weight="bold" text-anchor="end" stroke="#000" stroke-width="0.35" >800</text>
<line x1="504.50" y1="166.62" x2="511.50" y2="166.62" stroke="#000" stroke-width="2" stroke-linecap="butt" />
<text x="501.40" y="171.62" font-family='"Liberation Sans", sans-serif' font-size="13.5" font-weight="bold" text-anchor="end" stroke="#000" stroke-width="0.35" >1000</text>
<line x1="504.50" y1="124.65" x2="511.50" y2="124.65" stroke="#000" stroke-width="2" stroke-linecap="butt" />
<text x="501.40" y="129.65" font-family='"Liberation Sans", sans-serif' font-size="13.5" font-weight="bold" text-anchor="end" stroke="#000" stroke-width="0.35" >1200</text>
<line x1="504.50" y1="82.68" x2="511.50" y2="82.68" stroke="#000" stroke-width="2" stroke-linecap="butt" />
<text x="501.40" y="87.68" font-family='"Liberation Sans", sans-serif' font-size="13.5" font-weight="bold" text-anchor="end" stroke="#000" stroke-width="0.35" >1400</text>
<line x1="504.50" y1="40.70" x2="511.50" y2="40.70" stroke="#000" stroke-width="2" stroke-linecap="butt" />
<text x="501.40" y="45.70" font-family='"Liberation Sans", sans-serif' font-size="13.5" font-weight="bold" text-anchor="end" stroke="#000" stroke-width="0.35" >1600</text>
<text transform="translate(459.20,125.60) rotate(-90)" x="0" y="0" font-family='"Liberation Serif", serif' font-size="17.0" font-weight="bold" text-anchor="middle" stroke="#000" stroke-width="0.35">AUC (mM*min)</text>
<text x="444.10" y="15.80" font-family='"Liberation Sans", sans-serif' font-size="21.3" font-weight="bold" text-anchor="start" stroke="#000" stroke-width="0.35" >B</text>
<rect x="536.20" y="157.50" width="47.8" height="51.10" fill="#7B7BFF"/>
<line x1="560.10" y1="157.50" x2="560.10" y2="132.50" stroke="#7B7BFF" stroke-width="1.35" stroke-linecap="butt" stroke-opacity="0.8"/>
<line x1="548.10" y1="132.50" x2="572.10" y2="132.50" stroke="#7B7BFF" stroke-width="1.75" stroke-linecap="butt" stroke-opacity="0.8"/>
<line x1="560.10" y1="208.60" x2="560.10" y2="215.60" stroke="#000" stroke-width="2" stroke-linecap="butt" />
<text x="560.10" y="232.80" font-family='"Liberation Serif", serif' font-size="14.6" font-weight="bold" text-anchor="middle" stroke="#000" stroke-width="0.35" >SC</text>
<circle cx="545.90" cy="127.80" r="3.5" fill="#000"/>
<circle cx="560.10" cy="132.10" r="3.5" fill="#000"/>
<circle cx="574.30" cy="129.80" r="3.5" fill="#000"/>
<circle cx="553.10" cy="142.60" r="3.5" fill="#000"/>
<circle cx="567.30" cy="140.30" r="3.5" fill="#000"/>
<circle cx="574.30" cy="153.70" r="3.5" fill="#000"/>
<circle cx="560.10" cy="160.50" r="3.5" fill="#000"/>
<circle cx="574.30" cy="178.90" r="3.5" fill="#000"/>
<circle cx="560.10" cy="183.50" r="3.5" fill="#000"/>
<circle cx="574.30" cy="188.40" r="3.5" fill="#000"/>
<circle cx="545.90" cy="193.20" r="3.5" fill="#000"/>
<rect x="608.00" y="107.20" width="47.8" height="101.40" fill="#FF7B7B"/>
<line x1="631.90" y1="107.20" x2="631.90" y2="78.80" stroke="#FF7B7B" stroke-width="1.35" stroke-linecap="butt" stroke-opacity="0.8"/>
<line x1="619.90" y1="78.80" x2="643.90" y2="78.80" stroke="#FF7B7B" stroke-width="1.75" stroke-linecap="butt" stroke-opacity="0.8"/>
<line x1="631.90" y1="208.60" x2="631.90" y2="215.60" stroke="#000" stroke-width="2" stroke-linecap="butt" />
<text x="631.90" y="232.80" font-family='"Liberation Serif", serif' font-size="14.6" font-weight="bold" text-anchor="middle" stroke="#000" stroke-width="0.35" >SF 8w-SR 2w</text>
<circle cx="631.80" cy="63.10" r="3.5" fill="#000"/>
<circle cx="631.80" cy="70.80" r="3.5" fill="#000"/>
<circle cx="617.50" cy="86.20" r="3.5" fill="#000"/>
<circle cx="631.80" cy="89.90" r="3.5" fill="#000"/>
<circle cx="617.50" cy="101.70" r="3.5" fill="#000"/>
<circle cx="631.80" cy="101.40" r="3.5" fill="#000"/>
<circle cx="646.00" cy="104.50" r="3.5" fill="#000"/>
<circle cx="631.80" cy="111.50" r="3.5" fill="#000"/>
<circle cx="639.00" cy="124.70" r="3.5" fill="#000"/>
<circle cx="624.80" cy="130.00" r="3.5" fill="#000"/>
<circle cx="639.00" cy="149.30" r="3.5" fill="#000"/>
<circle cx="624.80" cy="151.60" r="3.5" fill="#000"/>
<line x1="559.30" y1="21.90" x2="630.40" y2="21.90" stroke="#000" stroke-width="3" stroke-linecap="round" />
<path d="M589.78,5.10L589.78,13.27M586.24,7.14L593.32,11.23M593.32,7.14L586.24,11.23" stroke="#000" stroke-width="2.196" stroke-linecap="round" fill="none"/>
<circle cx="589.78" cy="9.18" r="2.32" fill="#000"/>
<path d="M600.02,5.10L600.02,13.27M596.48,7.14L603.56,11.23M603.56,7.14L596.48,11.23" stroke="#000" stroke-width="2.196" stroke-linecap="round" fill="none"/>
<circle cx="600.02" cy="9.18" r="2.32" fill="#000"/>
<line x1="517.70" y1="286.40" x2="517.70" y2="454.00" stroke="#000" stroke-width="2" stroke-linecap="butt" />
<line x1="510.70" y1="453.00" x2="683.20" y2="453.00" stroke="#000" stroke-width="2" stroke-linecap="butt" />
<text x="506.50" y="457.70" font-family='"Liberation Serif", serif' font-size="14" font-weight="bold" text-anchor="end" stroke="#000" stroke-width="0.35" >1100</text>
<line x1="510.70" y1="425.40" x2="517.70" y2="425.40" stroke="#000" stroke-width="2" stroke-linecap="butt" />
<text x="506.50" y="430.10" font-family='"Liberation Serif", serif' font-size="14" font-weight="bold" text-anchor="end" stroke="#000" stroke-width="0.35" >1150</text>
<line x1="510.70" y1="397.80" x2="517.70" y2="397.80" stroke="#000" stroke-width="2" stroke-linecap="butt" />
<text x="506.50" y="402.50" font-family='"Liberation Serif", serif' font-size="14" font-weight="bold" text-anchor="end" stroke="#000" stroke-width="0.35" >1200</text>
<line x1="510.70" y1="370.20" x2="517.70" y2="370.20" stroke="#000" stroke-width="2" stroke-linecap="butt" />
<text x="506.50" y="374.90" font-family='"Liberation Serif", serif' font-size="14" font-weight="bold" text-anchor="end" stroke="#000" stroke-width="0.35" >1250</text>
<line x1="510.70" y1="342.60" x2="517.70" y2="342.60" stroke="#000" stroke-width="2" stroke-linecap="butt" />
<text x="506.50" y="347.30" font-family='"Liberation Serif", serif' font-size="14" font-weight="bold" text-anchor="end" stroke="#000" stroke-width="0.35" >1300</text>
<line x1="510.70" y1="315.00" x2="517.70" y2="315.00" stroke="#000" stroke-width="2" stroke-linecap="butt" />
<text x="506.50" y="319.70" font-family='"Liberation Serif", serif' font-size="14" font-weight="bold" text-anchor="end" stroke="#000" stroke-width="0.35" >1350</text>
<line x1="510.70" y1="287.40" x2="517.70" y2="287.40" stroke="#000" stroke-width="2" stroke-linecap="butt" />
<text x="506.50" y="292.10" font-family='"Liberation Serif", serif' font-size="14" font-weight="bold" text-anchor="end" stroke="#000" stroke-width="0.35" >1400</text>
<text transform="translate(459.20,369.00) rotate(-90)" x="0" y="0" font-family='"Liberation Serif", serif' font-size="17.0" font-weight="bold" text-anchor="middle" stroke="#000" stroke-width="0.35">AUC (mM*min)</text>
<text x="442.40" y="264.30" font-family='"Liberation Sans", sans-serif' font-size="21.3" font-weight="bold" text-anchor="start" stroke="#000" stroke-width="0.35" >D</text>
<rect x="540.90" y="411.90" width="47.8" height="41.10" fill="#7B7BFF"/>
<line x1="564.80" y1="411.90" x2="564.80" y2="394.30" stroke="#7B7BFF" stroke-width="1.35" stroke-linecap="butt" stroke-opacity="0.8"/>
<line x1="552.80" y1="394.30" x2="576.80" y2="394.30" stroke="#7B7BFF" stroke-width="1.75" stroke-linecap="butt" stroke-opacity="0.8"/>
<line x1="564.80" y1="453.00" x2="564.80" y2="460.00" stroke="#000" stroke-width="2" stroke-linecap="butt" />
<text x="564.80" y="477.20" font-family='"Liberation Serif", serif' font-size="14.6" font-weight="bold" text-anchor="middle" stroke="#000" stroke-width="0.35" >SC</text>
<circle cx="564.80" cy="385.40" r="3.5" fill="#000"/>
<circle cx="564.80" cy="406.50" r="3.5" fill="#000"/>
<circle cx="557.50" cy="415.10" r="3.5" fill="#000"/>
<circle cx="572.10" cy="421.30" r="3.5" fill="#000"/>
<circle cx="564.80" cy="431.80" r="3.5" fill="#000"/>
<rect x="612.40" y="367.50" width="47.8" height="85.50" fill="#FF7B7B"/>
<line x1="636.30" y1="367.50" x2="636.30" y2="334.10" stroke="#FF7B7B" stroke-width="1.35" stroke-linecap="butt" stroke-opacity="0.8"/>
<line x1="624.30" y1="334.10" x2="648.30" y2="334.10" stroke="#FF7B7B" stroke-width="1.75" stroke-linecap="butt" stroke-opacity="0.8"/>
<line x1="636.30" y1="453.00" x2="636.30" y2="460.00" stroke="#000" stroke-width="2" stroke-linecap="butt" />
<text x="634.90" y="477.20" font-family='"Liberation Serif", serif' font-size="14.6" font-weight="bold" text-anchor="middle" stroke="#000" stroke-width="0.35" >SF 8w-SR 4w</text>
<circle cx="636.20" cy="314.00" r="3.5" fill="#000"/>
<circle cx="628.90" cy="367.00" r="3.5" fill="#000"/>
<circle cx="643.50" cy="365.90" r="3.5" fill="#000"/>
<circle cx="636.20" cy="388.90" r="3.5" fill="#000"/>
<circle cx="636.20" cy="400.70" r="3.5" fill="#000"/>
<line x1="562.80" y1="284.40" x2="632.80" y2="284.40" stroke="#000" stroke-width="3" stroke-linecap="round" />
<path d="M598.10,267.20L598.10,275.37M594.56,269.24L601.64,273.33M601.64,269.24L594.56,273.33" stroke="#000" stroke-width="2.196" stroke-linecap="round" fill="none"/>
<circle cx="598.10" cy="271.29" r="2.32" fill="#000"/>
<line x1="517.70" y1="537.80" x2="517.70" y2="706.00" stroke="#000" stroke-width="2" stroke-linecap="butt" />
<line x1="510.70" y1="705.00" x2="683.20" y2="705.00" stroke="#000" stroke-width="2" stroke-linecap="butt" />
<text x="506.50" y="709.70" font-family='"Liberation Serif", serif' font-size="14" font-weight="bold" text-anchor="end" stroke="#000" stroke-width="0.35" >900</text>
<line x1="510.70" y1="677.30" x2="517.70" y2="677.30" stroke="#000" stroke-width="2" stroke-linecap="butt" />
<text x="506.50" y="682.00" font-family='"Liberation Serif", serif' font-size="14" font-weight="bold" text-anchor="end" stroke="#000" stroke-width="0.35" >1000</text>
<line x1="510.70" y1="649.60" x2="517.70" y2="649.60" stroke="#000" stroke-width="2" stroke-linecap="butt" />
<text x="506.50" y="654.30" font-family='"Liberation Serif", serif' font-size="14" font-weight="bold" text-anchor="end" stroke="#000" stroke-width="0.35" >1100</text>
<line x1="510.70" y1="621.90" x2="517.70" y2="621.90" stroke="#000" stroke-width="2" stroke-linecap="butt" />
<text x="506.50" y="626.60" font-family='"Liberation Serif", serif' font-size="14" font-weight="bold" text-anchor="end" stroke="#000" stroke-width="0.35" >1200</text>
<line x1="510.70" y1="594.20" x2="517.70" y2="594.20" stroke="#000" stroke-width="2" stroke-linecap="butt" />
<text x="506.50" y="598.90" font-family='"Liberation Serif", serif' font-size="14" font-weight="bold" text-anchor="end" stroke="#000" stroke-width="0.35" >1300</text>
<line x1="510.70" y1="566.50" x2="517.70" y2="566.50" stroke="#000" stroke-width="2" stroke-linecap="butt" />
<text x="506.50" y="571.20" font-family='"Liberation Serif", serif' font-size="14" font-weight="bold" text-anchor="end" stroke="#000" stroke-width="0.35" >1400</text>
<line x1="510.70" y1="538.80" x2="517.70" y2="538.80" stroke="#000" stroke-width="2" stroke-linecap="butt" />
<text x="506.50" y="543.50" font-family='"Liberation Serif", serif' font-size="14" font-weight="bold" text-anchor="end" stroke="#000" stroke-width="0.35" >1500</text>
<text transform="translate(459.20,621.50) rotate(-90)" x="0" y="0" font-family='"Liberation Serif", serif' font-size="17.0" font-weight="bold" text-anchor="middle" stroke="#000" stroke-width="0.35">AUC (mM*min)</text>
<text x="442.70" y="517.30" font-family='"Liberation Sans", sans-serif' font-size="21.3" font-weight="bold" text-anchor="start" stroke="#000" stroke-width="0.35" >F</text>
<rect x="540.90" y="645.40" width="47.8" height="59.60" fill="#7B7BFF"/>
<line x1="564.80" y1="645.40" x2="564.80" y2="621.90" stroke="#7B7BFF" stroke-width="1.35" stroke-linecap="butt" stroke-opacity="0.8"/>
<line x1="552.80" y1="621.90" x2="576.80" y2="621.90" stroke="#7B7BFF" stroke-width="1.75" stroke-linecap="butt" stroke-opacity="0.8"/>
<line x1="564.80" y1="705.00" x2="564.80" y2="712.00" stroke="#000" stroke-width="2" stroke-linecap="butt" />
<text x="564.80" y="729.20" font-family='"Liberation Serif", serif' font-size="14.6" font-weight="bold" text-anchor="middle" stroke="#000" stroke-width="0.35" >SC</text>
<circle cx="564.80" cy="621.30" r="3.5" fill="#000"/>
<circle cx="572.10" cy="630.80" r="3.5" fill="#000"/>
<circle cx="557.50" cy="637.50" r="3.5" fill="#000"/>
<circle cx="564.80" cy="654.80" r="3.5" fill="#000"/>
<circle cx="564.80" cy="682.10" r="3.5" fill="#000"/>
<rect x="612.40" y="614.00" width="47.8" height="91.00" fill="#FF7B7B"/>
<line x1="636.30" y1="614.00" x2="636.30" y2="580.10" stroke="#FF7B7B" stroke-width="1.35" stroke-linecap="butt" stroke-opacity="0.8"/>
<line x1="624.30" y1="580.10" x2="648.30" y2="580.10" stroke="#FF7B7B" stroke-width="1.75" stroke-linecap="butt" stroke-opacity="0.8"/>
<line x1="636.30" y1="705.00" x2="636.30" y2="712.00" stroke="#000" stroke-width="2" stroke-linecap="butt" />
<text x="634.90" y="729.20" font-family='"Liberation Serif", serif' font-size="14.6" font-weight="bold" text-anchor="middle" stroke="#000" stroke-width="0.35" >SF 8w-SR 6w</text>
<circle cx="635.90" cy="558.90" r="3.5" fill="#000"/>
<circle cx="636.40" cy="608.90" r="3.5" fill="#000"/>
<circle cx="636.40" cy="622.70" r="3.5" fill="#000"/>
<circle cx="636.40" cy="630.80" r="3.5" fill="#000"/>
<circle cx="636.40" cy="647.50" r="3.5" fill="#000"/>
<line x1="562.80" y1="536.30" x2="633.00" y2="536.30" stroke="#000" stroke-width="3" stroke-linecap="round" />
<text x="597.90" y="527.90" font-family='"Liberation Sans", sans-serif' font-size="14.6" font-weight="bold" text-anchor="middle" stroke="#000" stroke-width="0.35" >p=0.126</text>
<line x1="518.20" y1="780.60" x2="518.20" y2="948.70" stroke="#1c1c1c" stroke-width="2" stroke-linecap="butt" />
<line x1="511.20" y1="947.70" x2="683.20" y2="947.70" stroke="#1c1c1c" stroke-width="2" stroke-linecap="butt" />
<text x="507.00" y="952.40" font-family='"Liberation Serif", serif' font-size="14" font-weight="bold" text-anchor="end" stroke="#000" stroke-width="0.35" >1000</text>
<line x1="511.20" y1="914.48" x2="518.20" y2="914.48" stroke="#1c1c1c" stroke-width="2" stroke-linecap="butt" />
<text x="507.00" y="919.18" font-family='"Liberation Serif", serif' font-size="14" font-weight="bold" text-anchor="end" stroke="#000" stroke-width="0.35" >1200</text>
<line x1="511.20" y1="881.26" x2="518.20" y2="881.26" stroke="#1c1c1c" stroke-width="2" stroke-linecap="butt" />
<text x="507.00" y="885.96" font-family='"Liberation Serif", serif' font-size="14" font-weight="bold" text-anchor="end" stroke="#000" stroke-width="0.35" >1400</text>
<line x1="511.20" y1="848.04" x2="518.20" y2="848.04" stroke="#1c1c1c" stroke-width="2" stroke-linecap="butt" />
<text x="507.00" y="852.74" font-family='"Liberation Serif", serif' font-size="14" font-weight="bold" text-anchor="end" stroke="#000" stroke-width="0.35" >1600</text>
<line x1="511.20" y1="814.82" x2="518.20" y2="814.82" stroke="#1c1c1c" stroke-width="2" stroke-linecap="butt" />
<text x="507.00" y="819.52" font-family='"Liberation Serif", serif' font-size="14" font-weight="bold" text-anchor="end" stroke="#000" stroke-width="0.35" >1800</text>
<line x1="511.20" y1="781.60" x2="518.20" y2="781.60" stroke="#1c1c1c" stroke-width="2" stroke-linecap="butt" />
<text x="507.00" y="786.30" font-family='"Liberation Serif", serif' font-size="14" font-weight="bold" text-anchor="end" stroke="#000" stroke-width="0.35" >2000</text>
<text transform="translate(459.20,864.70) rotate(-90)" x="0" y="0" font-family='"Liberation Serif", serif' font-size="17.0" font-weight="bold" text-anchor="middle" stroke="#000" stroke-width="0.35">AUC (mM*min)</text>
<text x="443.40" y="759.90" font-family='"Liberation Sans", sans-serif' font-size="21.3" font-weight="bold" text-anchor="start" stroke="#000" stroke-width="0.35" >H</text>
<rect x="541.10" y="875.40" width="47.8" height="72.30" fill="#7B7BFF"/>
<line x1="565.00" y1="875.40" x2="565.00" y2="832.20" stroke="#7B7BFF" stroke-width="1.35" stroke-linecap="butt" stroke-opacity="0.8"/>
<line x1="553.00" y1="832.20" x2="577.00" y2="832.20" stroke="#7B7BFF" stroke-width="1.75" stroke-linecap="butt" stroke-opacity="0.8"/>
<line x1="565.00" y1="947.70" x2="565.00" y2="954.70" stroke="#1c1c1c" stroke-width="2" stroke-linecap="butt" />
<text x="565.00" y="971.90" font-family='"Liberation Serif", serif' font-size="14.6" font-weight="bold" text-anchor="middle" stroke="#000" stroke-width="0.35" >SC</text>
<circle cx="565.10" cy="820.00" r="3.5" fill="#000"/>
<circle cx="564.80" cy="838.40" r="3.5" fill="#000"/>
<circle cx="564.80" cy="897.00" r="3.5" fill="#000"/>
<circle cx="564.80" cy="905.60" r="3.5" fill="#000"/>
<circle cx="564.80" cy="915.90" r="3.5" fill="#000"/>
<rect x="612.90" y="870.00" width="47.8" height="77.70" fill="#FF7B7B"/>
<line x1="636.80" y1="870.00" x2="636.80" y2="831.30" stroke="#FF7B7B" stroke-width="1.35" stroke-linecap="butt" stroke-opacity="0.8"/>
<line x1="624.80" y1="831.30" x2="648.80" y2="831.30" stroke="#FF7B7B" stroke-width="1.75" stroke-linecap="butt" stroke-opacity="0.8"/>
<line x1="636.80" y1="947.70" x2="636.80" y2="954.70" stroke="#1c1c1c" stroke-width="2" stroke-linecap="butt" />
<text x="635.40" y="971.90" font-family='"Liberation Serif", serif' font-size="14.6" font-weight="bold" text-anchor="middle" stroke="#000" stroke-width="0.35" >SF 8w-SR 8w</text>
<circle cx="636.90" cy="826.80" r="3.5" fill="#000"/>
<circle cx="636.90" cy="838.90" r="3.5" fill="#000"/>
<circle cx="636.90" cy="872.70" r="3.5" fill="#000"/>
<circle cx="636.90" cy="888.00" r="3.5" fill="#000"/>
<circle cx="636.90" cy="924.00" r="3.5" fill="#000"/>
</svg>
</body></html>
